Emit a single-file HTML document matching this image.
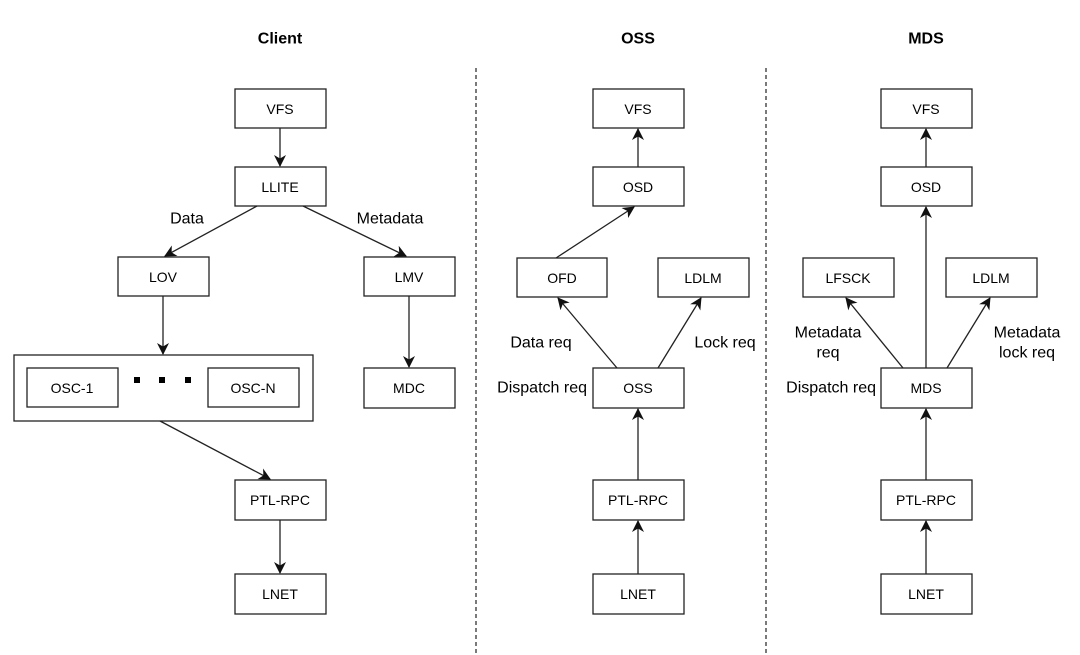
<!DOCTYPE html>
<html><head><meta charset="utf-8"><style>
html,body{margin:0;padding:0;background:#fff;}
svg{display:block;}
text{font-family:"Liberation Sans",Arial,sans-serif;fill:#000;}
.b{fill:#fff;stroke:#222;stroke-width:1.3;}
.l{stroke:#222;stroke-width:1.3;fill:none;}
.t{font-size:14px;text-anchor:middle;dominant-baseline:central;}
.lb{font-size:16px;dominant-baseline:central;}
</style></head><body>
<svg width="1080" height="655" viewBox="0 0 1080 655" xmlns="http://www.w3.org/2000/svg">
<defs><marker id="a" markerWidth="12" markerHeight="12" refX="11" refY="6" orient="auto" markerUnits="userSpaceOnUse"><path d="M0,0 L12,6 L0,12 L3.5,6 z" fill="#111"/></marker></defs>
<text x="280" y="39" font-size="16" font-weight="bold" text-anchor="middle" dominant-baseline="central">Client</text>
<text x="638" y="39" font-size="16" font-weight="bold" text-anchor="middle" dominant-baseline="central">OSS</text>
<text x="926" y="39" font-size="16" font-weight="bold" text-anchor="middle" dominant-baseline="central">MDS</text>
<line x1="476" y1="68" x2="476" y2="655" stroke="#333" stroke-width="1.3" stroke-dasharray="4,3"/>
<line x1="766" y1="68" x2="766" y2="655" stroke="#333" stroke-width="1.3" stroke-dasharray="4,3"/>
<!-- client -->
<rect class="b" x="235" y="89" width="91" height="39"/><text class="t" x="280" y="109">VFS</text>
<rect class="b" x="235" y="167" width="91" height="39"/><text class="t" x="280" y="187">LLITE</text>
<rect class="b" x="118" y="257" width="91" height="39"/><text class="t" x="163" y="277">LOV</text>
<rect class="b" x="364" y="257" width="91" height="39"/><text class="t" x="409" y="277">LMV</text>
<rect class="b" x="14" y="355" width="299" height="66"/>
<rect class="b" x="27" y="368" width="91" height="39"/><text class="t" x="72" y="388">OSC-1</text>
<rect class="b" x="208" y="368" width="91" height="39"/><text class="t" x="253" y="388">OSC-N</text>
<rect x="134" y="377" width="6" height="6" fill="#000"/><rect x="159" y="377" width="6" height="6" fill="#000"/><rect x="185" y="377" width="6" height="6" fill="#000"/>
<rect class="b" x="364" y="368" width="91" height="40"/><text class="t" x="409" y="388">MDC</text>
<rect class="b" x="235" y="480" width="91" height="40"/><text class="t" x="280" y="500">PTL-RPC</text>
<rect class="b" x="235" y="574" width="91" height="40"/><text class="t" x="280" y="594">LNET</text>
<line class="l" x1="280" y1="128" x2="280" y2="166" marker-end="url(#a)"/>
<line class="l" x1="257" y1="206" x2="165" y2="256" marker-end="url(#a)"/>
<line class="l" x1="303" y1="206" x2="406" y2="256" marker-end="url(#a)"/>
<line class="l" x1="163" y1="296" x2="163" y2="354" marker-end="url(#a)"/>
<line class="l" x1="409" y1="296" x2="409" y2="367" marker-end="url(#a)"/>
<line class="l" x1="160" y1="421" x2="270" y2="479" marker-end="url(#a)"/>
<line class="l" x1="280" y1="520" x2="280" y2="573" marker-end="url(#a)"/>
<text class="lb" x="187" y="219" text-anchor="middle">Data</text>
<text class="lb" x="390" y="219" text-anchor="middle">Metadata</text>
<!-- OSS -->
<rect class="b" x="593" y="89" width="91" height="39"/><text class="t" x="638" y="109">VFS</text>
<rect class="b" x="593" y="167" width="91" height="39"/><text class="t" x="638" y="187">OSD</text>
<rect class="b" x="517" y="258" width="90" height="39"/><text class="t" x="562" y="278">OFD</text>
<rect class="b" x="658" y="258" width="91" height="39"/><text class="t" x="703" y="278">LDLM</text>
<rect class="b" x="593" y="368" width="91" height="40"/><text class="t" x="638" y="388">OSS</text>
<rect class="b" x="593" y="480" width="91" height="40"/><text class="t" x="638" y="500">PTL-RPC</text>
<rect class="b" x="593" y="574" width="91" height="40"/><text class="t" x="638" y="594">LNET</text>
<line class="l" x1="638" y1="167" x2="638" y2="129" marker-end="url(#a)"/>
<line class="l" x1="556" y1="258" x2="634" y2="207" marker-end="url(#a)"/>
<line class="l" x1="617" y1="368" x2="558" y2="298" marker-end="url(#a)"/>
<line class="l" x1="658" y1="368" x2="701" y2="298" marker-end="url(#a)"/>
<line class="l" x1="638" y1="480" x2="638" y2="409" marker-end="url(#a)"/>
<line class="l" x1="638" y1="574" x2="638" y2="521" marker-end="url(#a)"/>
<text class="lb" x="541" y="343" text-anchor="middle">Data req</text>
<text class="lb" x="725" y="343" text-anchor="middle">Lock req</text>
<text class="lb" x="587" y="388" text-anchor="end">Dispatch req</text>
<!-- MDS -->
<rect class="b" x="881" y="89" width="91" height="39"/><text class="t" x="926" y="109">VFS</text>
<rect class="b" x="881" y="167" width="91" height="39"/><text class="t" x="926" y="187">OSD</text>
<rect class="b" x="803" y="258" width="91" height="39"/><text class="t" x="848" y="278">LFSCK</text>
<rect class="b" x="946" y="258" width="91" height="39"/><text class="t" x="991" y="278">LDLM</text>
<rect class="b" x="881" y="368" width="91" height="40"/><text class="t" x="926" y="388">MDS</text>
<rect class="b" x="881" y="480" width="91" height="40"/><text class="t" x="926" y="500">PTL-RPC</text>
<rect class="b" x="881" y="574" width="91" height="40"/><text class="t" x="926" y="594">LNET</text>
<line class="l" x1="926" y1="167" x2="926" y2="129" marker-end="url(#a)"/>
<line class="l" x1="926" y1="368" x2="926" y2="207" marker-end="url(#a)"/>
<line class="l" x1="903" y1="368" x2="846" y2="298" marker-end="url(#a)"/>
<line class="l" x1="947" y1="368" x2="990" y2="298" marker-end="url(#a)"/>
<line class="l" x1="926" y1="480" x2="926" y2="409" marker-end="url(#a)"/>
<line class="l" x1="926" y1="574" x2="926" y2="521" marker-end="url(#a)"/>
<text class="lb" x="828" y="333" text-anchor="middle">Metadata</text>
<text class="lb" x="828" y="353" text-anchor="middle">req</text>
<text class="lb" x="1027" y="333" text-anchor="middle">Metadata</text>
<text class="lb" x="1027" y="353" text-anchor="middle">lock req</text>
<text class="lb" x="876" y="388" text-anchor="end">Dispatch req</text>
</svg>
</body></html>
